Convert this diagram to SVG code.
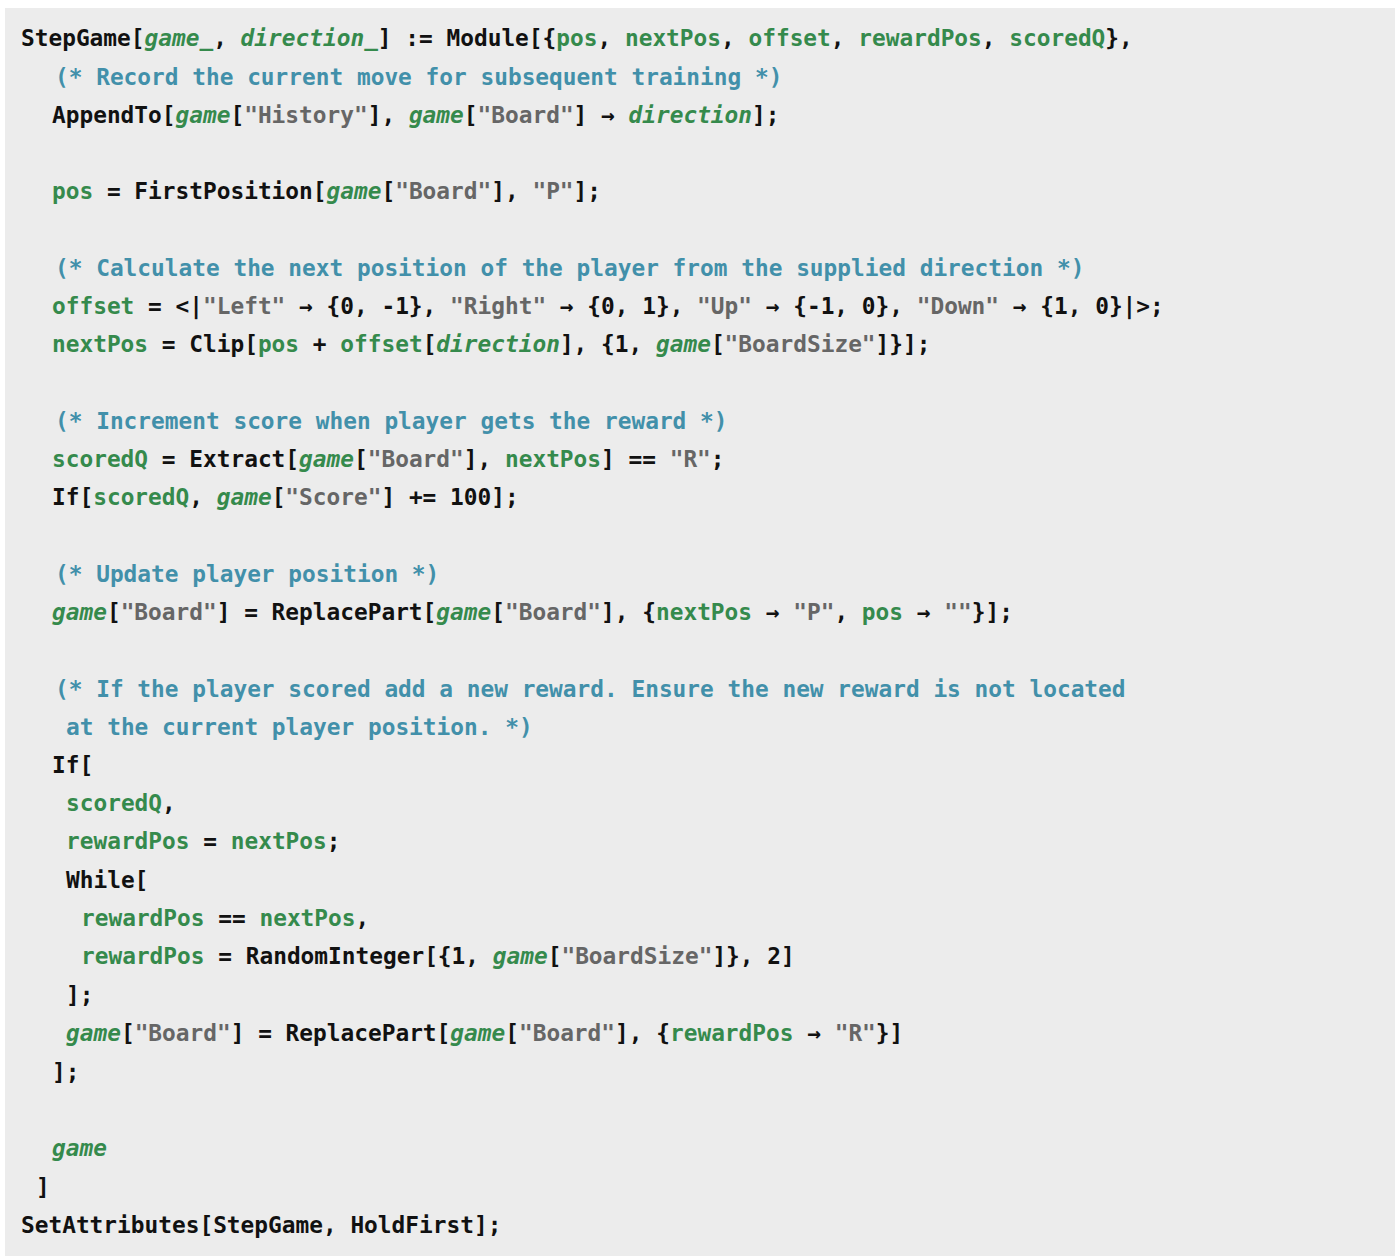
<svg xmlns="http://www.w3.org/2000/svg" width="1400" height="1260" viewBox="0 0 1400 1260">
<style>
text{font-family:"DejaVu Sans Mono","Liberation Mono",monospace;font-size:22.8px;font-weight:bold;fill:#111;white-space:pre}
.v{fill:#358a4c}.i{fill:#358a4c;font-style:italic}.s{fill:#666}.c{fill:#4290aa}
</style>
<rect width="1400" height="1260" fill="#fff"/>
<rect x="5" y="8" width="1390" height="1248" fill="#ececec"/>
<g id="code" xml:space="preserve">
<text x="21" y="46">StepGame[<tspan class="i">game_</tspan>, <tspan class="i">direction_</tspan>] := Module[{<tspan class="v">pos</tspan>, <tspan class="v">nextPos</tspan>, <tspan class="v">offset</tspan>, <tspan class="v">rewardPos</tspan>, <tspan class="v">scoredQ</tspan>},</text>
<text x="55" y="85" class="c">(* Record the current move for subsequent training *)</text>
<text x="52" y="123">AppendTo[<tspan class="i">game</tspan>[<tspan class="s">"History"</tspan>], <tspan class="i">game</tspan>[<tspan class="s">"Board"</tspan>] → <tspan class="i">direction</tspan>];</text>
<text x="52" y="199"><tspan class="v">pos</tspan> = FirstPosition[<tspan class="i">game</tspan>[<tspan class="s">"Board"</tspan>], <tspan class="s">"P"</tspan>];</text>
<text x="55" y="276" class="c">(* Calculate the next position of the player from the supplied direction *)</text>
<text x="52" y="314"><tspan class="v">offset</tspan> = &lt;|<tspan class="s">"Left"</tspan> → {0, -1}, <tspan class="s">"Right"</tspan> → {0, 1}, <tspan class="s">"Up"</tspan> → {-1, 0}, <tspan class="s">"Down"</tspan> → {1, 0}|&gt;;</text>
<text x="52" y="352"><tspan class="v">nextPos</tspan> = Clip[<tspan class="v">pos</tspan> + <tspan class="v">offset</tspan>[<tspan class="i">direction</tspan>], {1, <tspan class="i">game</tspan>[<tspan class="s">"BoardSize"</tspan>]}];</text>
<text x="55" y="429" class="c">(* Increment score when player gets the reward *)</text>
<text x="52" y="467"><tspan class="v">scoredQ</tspan> = Extract[<tspan class="i">game</tspan>[<tspan class="s">"Board"</tspan>], <tspan class="v">nextPos</tspan>] == <tspan class="s">"R"</tspan>;</text>
<text x="52" y="505">If[<tspan class="v">scoredQ</tspan>, <tspan class="i">game</tspan>[<tspan class="s">"Score"</tspan>] += 100];</text>
<text x="55" y="582" class="c">(* Update player position *)</text>
<text x="52" y="620"><tspan class="i">game</tspan>[<tspan class="s">"Board"</tspan>] = ReplacePart[<tspan class="i">game</tspan>[<tspan class="s">"Board"</tspan>], {<tspan class="v">nextPos</tspan> → <tspan class="s">"P"</tspan>, <tspan class="v">pos</tspan> → <tspan class="s">""</tspan>}];</text>
<text x="55" y="697" class="c">(* If the player scored add a new reward. Ensure the new reward is not located</text>
<text x="66" y="735" class="c">at the current player position. *)</text>
<text x="52" y="773">If[</text>
<text x="66" y="811"><tspan class="v">scoredQ</tspan>,</text>
<text x="66" y="849"><tspan class="v">rewardPos</tspan> = <tspan class="v">nextPos</tspan>;</text>
<text x="66" y="888">While[</text>
<text x="81" y="926"><tspan class="v">rewardPos</tspan> == <tspan class="v">nextPos</tspan>,</text>
<text x="81" y="964"><tspan class="v">rewardPos</tspan> = RandomInteger[{1, <tspan class="i">game</tspan>[<tspan class="s">"BoardSize"</tspan>]}, 2]</text>
<text x="66" y="1003">];</text>
<text x="66" y="1041"><tspan class="i">game</tspan>[<tspan class="s">"Board"</tspan>] = ReplacePart[<tspan class="i">game</tspan>[<tspan class="s">"Board"</tspan>], {<tspan class="v">rewardPos</tspan> → <tspan class="s">"R"</tspan>}]</text>
<text x="52" y="1080">];</text>
<text x="52" y="1156" class="i">game</text>
<text x="36" y="1195">]</text>
<text x="21" y="1233">SetAttributes[StepGame, HoldFirst];</text>
</g>
</svg>
